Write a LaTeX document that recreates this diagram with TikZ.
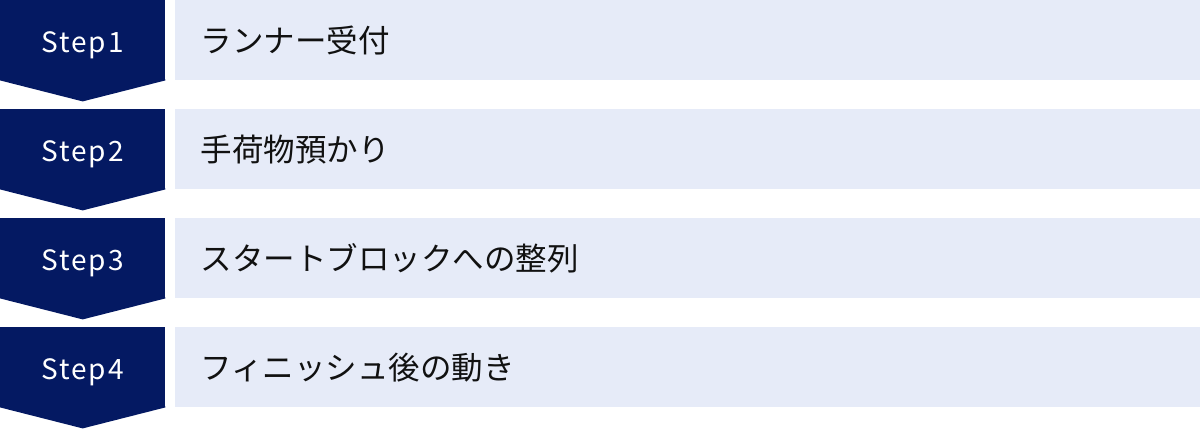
\documentclass[tikz,border=0pt]{standalone}
\usepackage{fontspec}
\setmainfont{Noto Sans CJK JP}
\newfontfamily\stepfont[LetterSpace=7]{Noto Sans CJK JP}
\usetikzlibrary{positioning}
\definecolor{stepnavy}{RGB}{4,25,98}
\definecolor{rowblue}{RGB}{230,235,248}
\definecolor{rowink}{RGB}{17,17,17}
\tikzset{stepbox/.style={fill=stepnavy,text=white,minimum width=165pt,
                         minimum height=80pt,inner sep=0pt,
                         text height=24pt,text depth=0pt,
                         font=\stepfont\fontsize{28}{28}\selectfont}}
\tikzset{rowbox/.style={fill=rowblue,minimum width=1026pt,
                        minimum height=80pt,inner sep=0pt}}
\tikzset{rowtext/.style={text=rowink,inner sep=0pt,anchor=west,
                         font=\fontsize{31.5}{31.5}\selectfont}}
\def\rowsep{109}

\begin{document}
\begin{tikzpicture}[x=1pt,y=-1pt]
    \useasboundingbox (0,0) rectangle (1200,429);

    % Draw the step boxes, each with its arrow tip, and the rows beside them
    \foreach \n / \txt in {1/ランナー受付,2/手荷物預かり,3/スタートブロックへの整列,4/フィニッシュ後の動き}
    {
        \node[stepbox,anchor=north west] (S-\n) at (0,{(\n-1)*\rowsep}) {Step\n};
        \fill[stepnavy] ([yshift=1pt]S-\n.south west) -- (S-\n.south west)
            -- ([yshift=-21pt]S-\n.south) -- (S-\n.south east)
            -- ([yshift=1pt]S-\n.south east) -- cycle;
        \node[rowbox,right=9pt of S-\n] (R-\n) {};
        \node[rowtext] (T-\n) at ([xshift=26pt]R-\n.west) {\txt};
    }
\end{tikzpicture}
\end{document}
